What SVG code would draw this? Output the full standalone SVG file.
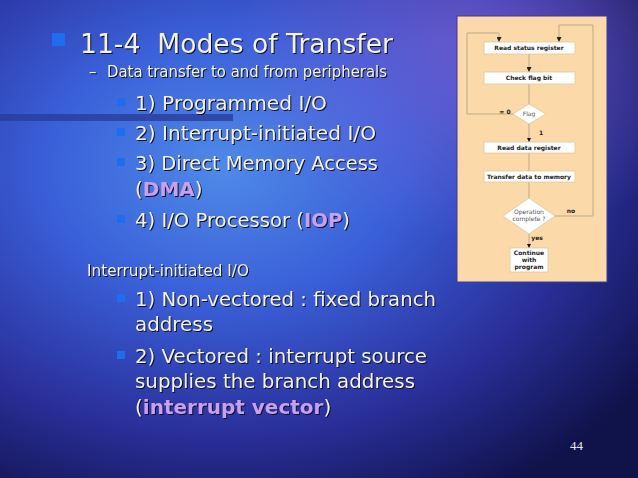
<svg xmlns="http://www.w3.org/2000/svg" width="638" height="478" viewBox="0 0 638 478">
<defs>
<radialGradient id="bg" cx="0.35" cy="0.35" r="0.8">
<stop offset="0" stop-color="#4f8ae8"/>
<stop offset="0.35" stop-color="#3a5fd8"/>
<stop offset="0.7" stop-color="#2a2f9a"/>
<stop offset="1" stop-color="#10124a"/>
</radialGradient>
<radialGradient id="glow" cx="0.75" cy="0.1" r="0.4">
<stop offset="0" stop-color="#8a6ae0" stop-opacity="0.6"/>
<stop offset="1" stop-color="#8a6ae0" stop-opacity="0"/>
</radialGradient>
<marker id="ar" viewBox="0 0 10 10" refX="10" refY="5" markerWidth="5" markerHeight="5" orient="auto"><path d="M0,0L10,5L0,10z" fill="#222"/></marker>
<marker id="big" viewBox="0 0 10 10" refX="10" refY="5" markerWidth="4" markerHeight="4" orient="auto"><path d="M0,0L10,5L0,10z" fill="#111"/></marker>
</defs>
<style>
.t{font-family:"DejaVu Sans",Verdana,sans-serif;fill:#f2f2e6;filter:drop-shadow(1.5px 1.5px 0.5px #101030)}
.h{fill:#c8a0ec;font-weight:bold}
.b{fill:#1e6cf0}
.bx{fill:#fff;stroke:#e0c8a0;stroke-width:0.8}
.ft{font-family:"DejaVu Sans",Verdana,sans-serif;font-size:6px;font-weight:bold;fill:#222;text-anchor:middle}
.fd{font-family:"DejaVu Sans",Verdana,sans-serif;font-size:6px;fill:#555;text-anchor:middle}
.ln{fill:none;stroke:#bba98a;stroke-width:1}
</style>
<rect width="638" height="478" fill="url(#bg)"/>
<rect width="638" height="478" fill="url(#glow)"/>
<rect x="0" y="114" width="233" height="7" fill="#2a3c9a" opacity="0.8"/>
<g id="text">
<rect class="b" x="52" y="33" width="13" height="13"/>
<text class="t" x="80" y="53" font-size="26" textLength="313" lengthAdjust="spacingAndGlyphs">11-4&#160; Modes of Transfer</text>
<text class="t" x="89" y="77" font-size="15">–</text>
<text class="t" x="107" y="77" font-size="15" textLength="280" lengthAdjust="spacingAndGlyphs">Data transfer to and from peripherals</text>
<rect class="b" x="117" y="98" width="8" height="8"/>
<text class="t" x="135" y="110" font-size="20" textLength="192" lengthAdjust="spacingAndGlyphs">1) Programmed I/O</text>
<rect class="b" x="117" y="128" width="8" height="8"/>
<text class="t" x="135" y="140" font-size="20" textLength="241" lengthAdjust="spacingAndGlyphs">2) Interrupt-initiated I/O</text>
<rect class="b" x="117" y="158" width="8" height="8"/>
<text class="t" x="135" y="170" font-size="20" textLength="243" lengthAdjust="spacingAndGlyphs">3) Direct Memory Access</text>
<text class="t" x="135" y="196" font-size="20">(<tspan class="h">DMA</tspan>)</text>
<rect class="b" x="117" y="215" width="8" height="8"/>
<text class="t" x="135" y="227" font-size="20" textLength="215" lengthAdjust="spacingAndGlyphs">4) I/O Processor (<tspan class="h">IOP</tspan>)</text>
<text class="t" x="87" y="276" font-size="15" textLength="162" lengthAdjust="spacingAndGlyphs">Interrupt-initiated I/O</text>
<rect class="b" x="117" y="294" width="8" height="8"/>
<text class="t" x="135" y="306" font-size="20" textLength="301" lengthAdjust="spacingAndGlyphs">1) Non-vectored : fixed branch</text>
<text class="t" x="135" y="331" font-size="20" textLength="78" lengthAdjust="spacingAndGlyphs">address</text>
<rect class="b" x="117" y="351" width="8" height="8"/>
<text class="t" x="135" y="363" font-size="20" textLength="292" lengthAdjust="spacingAndGlyphs">2) Vectored : interrupt source</text>
<text class="t" x="135" y="388" font-size="20" textLength="280" lengthAdjust="spacingAndGlyphs">supplies the branch address</text>
<text class="t" x="135" y="414" font-size="20">(<tspan class="h">interrupt vector</tspan>)</text>
<text x="570" y="450" font-family="Liberation Serif,serif" font-size="13" fill="#e8e8e8">44</text>
</g>
<rect x="457" y="16" width="150" height="266" fill="#fcd9a8" stroke="#3a3aa0" stroke-width="1"/>
<g id="connectors">
<path class="ln" d="M529,54V72" marker-end="url(#ar)"/>
<path class="ln" d="M529,84V104"/>
<path class="ln" d="M513,114H467V33H499V42" marker-end="url(#ar)"/>
<path class="ln" d="M529,124V142" marker-end="url(#big)"/>
<path class="ln" d="M529,153V171"/>
<path class="ln" d="M529,182V198"/>
<path class="ln" d="M555,216H593V25H559V42" marker-end="url(#ar)"/>
<path class="ln" d="M529,234V248" marker-end="url(#big)"/>
<text class="ft" x="505" y="114" font-size="5.5">= 0</text>
<text class="ft" x="541" y="135" font-size="5.5">1</text>
<text class="ft" x="571" y="213" font-size="5.5">no</text>
<text class="ft" x="537" y="240" font-size="5.5">yes</text>
</g>
<g id="n1"><rect class="bx" x="484" y="42" width="91" height="12"/><text class="ft" x="529" y="50">Read status  register</text></g>
<g id="n2"><rect class="bx" x="484" y="72" width="91" height="12"/><text class="ft" x="529" y="80">Check flag bit</text></g>
<g id="n3"><polygon class="bx" points="529,104 546,114 529,124 513,114"/><text class="fd" x="529" y="116">Flag</text></g>
<g id="n4"><rect class="bx" x="484" y="142" width="91" height="11"/><text class="ft" x="529" y="150">Read data  register</text></g>
<g id="n5"><rect class="bx" x="484" y="171" width="91" height="11"/><text class="ft" x="529" y="179">Transfer data to memory</text></g>
<g id="n6"><polygon class="bx" points="529,198 555,216 529,234 503,216"/><text class="fd" x="529" y="214">Operation</text><text class="fd" x="529" y="221">complete ?</text></g>
<g id="n7"><rect class="bx" x="510" y="248" width="38" height="24"/><text class="ft" x="529" y="255">Continue</text><text class="ft" x="529" y="262">with</text><text class="ft" x="529" y="269">program</text></g>
</svg>
